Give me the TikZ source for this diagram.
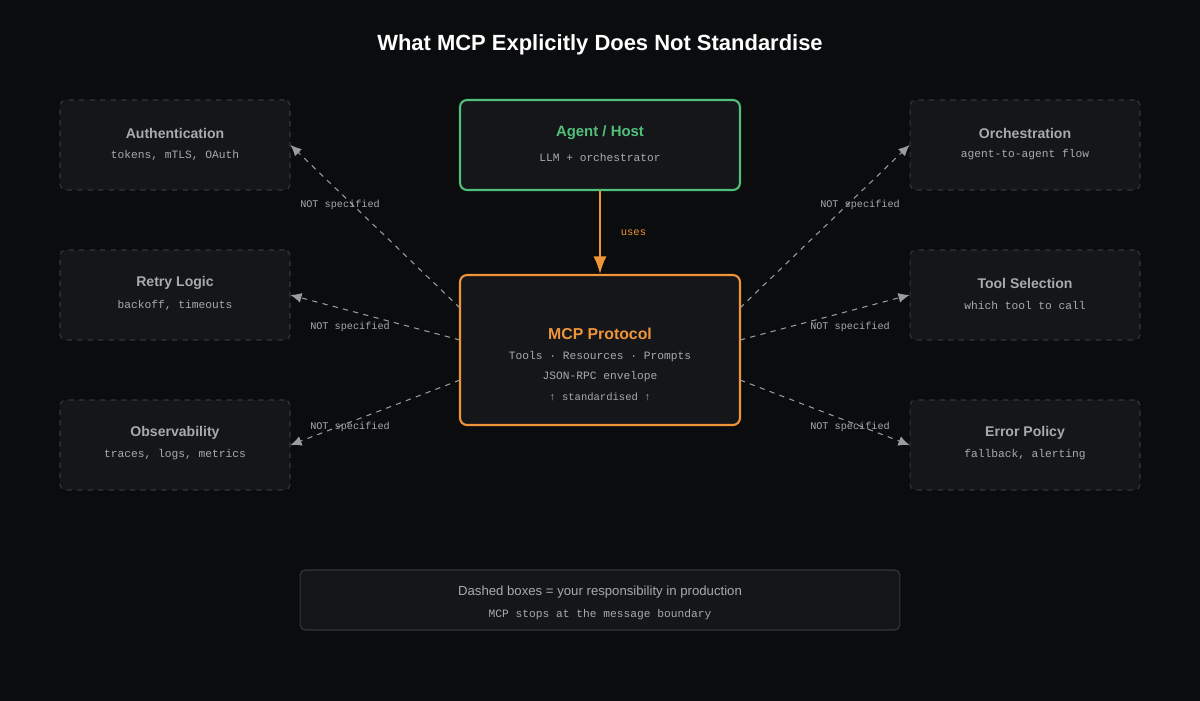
\documentclass[tikz,border=0pt]{standalone}
\usepackage{fontspec}
\setmainfont{Liberation Sans}
\setmonofont{Liberation Mono}
\usetikzlibrary{arrows.meta,positioning}
\definecolor{bgdark}{HTML}{0B0C0E}
\definecolor{boxfill}{HTML}{151619}
\definecolor{boxline}{HTML}{34363A}
\definecolor{hostgreen}{HTML}{4FBF7A}
\definecolor{mcporange}{HTML}{F0943A}
\definecolor{txtgrey}{HTML}{A8AAAE}
\definecolor{arrgrey}{HTML}{9A9CA0}

\tikzset{
  gap/.style={rectangle, rounded corners=3pt, draw=boxline, dashed, fill=boxfill,
    minimum width=4.6cm, minimum height=1.8cm, line width=0.6pt},
  gaptitle/.style={font=\fontsize{8}{9}\selectfont\bfseries, text=txtgrey},
  gapsub/.style={font=\ttfamily\fontsize{6.4}{7}\selectfont, text=txtgrey},
  notspec/.style={font=\ttfamily\fontsize{5.8}{6}\selectfont, text=txtgrey},
  notarrow/.style={-{Latex[length=2.2mm,width=2mm]}, arrgrey, dashed, line width=0.6pt}
}

\begin{document}
\begin{tikzpicture}[x=0.02cm, y=-0.02cm]
\useasboundingbox (0,0) rectangle (1200,700);
\fill[bgdark] (-5,-5) rectangle (1205,705);

\node[font=\fontsize{12.5}{14}\selectfont\bfseries, text=white] (title) at (600,45) {What MCP Explicitly Does Not Standardise};

% central boxes
\node[rectangle, rounded corners=4pt, draw=hostgreen, fill=boxfill, line width=1.2pt,
      minimum width=5.6cm, minimum height=1.8cm] (host) at (600,145) {};
\node[font=\fontsize{8.5}{10}\selectfont\bfseries, text=hostgreen] at (600,133) {Agent / Host};
\node[gapsub] at (600,157) {LLM + orchestrator};

\node[rectangle, rounded corners=4pt, draw=mcporange, fill=boxfill, line width=1.2pt,
      minimum width=5.6cm, minimum height=3cm] (mcp) at (600,350) {};
\node[font=\fontsize{9}{10}\selectfont\bfseries, text=mcporange] at (600,334) {MCP Protocol};
\node[gapsub] at (600,357) {Tools · Resources · Prompts};
\node[gapsub] at (600,377) {JSON-RPC envelope};
\node[font=\ttfamily\fontsize{6}{7}\selectfont, text=txtgrey] at (600,397) {↑ standardised ↑};

\draw[-{Latex[length=3.5mm,width=2.6mm]}, mcporange, line width=1pt] (host.south) -- (mcp.north)
  node[midway, right=8pt, font=\ttfamily\fontsize{6}{7}\selectfont, text=mcporange] {uses};

% gap boxes
\node[gap] (auth) at (175,145) {};
\node[gaptitle] at (175,133) {Authentication};
\node[gapsub] at (175,155) {tokens, mTLS, OAuth};
\node[gap] (retry) at (175,295) {};
\node[gaptitle] at (175,283) {Retry Logic};
\node[gapsub] at (175,305) {backoff, timeouts};
\node[gap] (obs) at (175,445) {};
\node[gaptitle] at (175,433) {Observability};
\node[gapsub] at (175,455) {traces, logs, metrics};
\node[gap] (orch) at (1025,145) {};
\node[gaptitle] at (1025,133) {Orchestration};
\node[gapsub] at (1025,155) {agent-to-agent flow};
\node[gap] (tool) at (1025,295) {};
\node[gaptitle] at (1025,283) {Tool Selection};
\node[gapsub] at (1025,305) {which tool to call};
\node[gap] (err) at (1025,445) {};
\node[gaptitle] at (1025,433) {Error Policy};
\node[gapsub] at (1025,455) {fallback, alerting};

% arrow starts on mcp
\coordinate (lA) at (460,308);
\coordinate (lB) at (460,340);
\coordinate (lC) at (460,380);
\coordinate (rA) at (740,308);
\coordinate (rB) at (740,340);
\coordinate (rC) at (740,380);

\draw[notarrow] (lA) -- (auth.east);
\draw[notarrow] (lB) -- (retry.east);
\draw[notarrow] (lC) -- (obs.east);
\draw[notarrow] (rA) -- (orch.west);
\draw[notarrow] (rB) -- (tool.west);
\draw[notarrow] (rC) -- (err.west);

\node[notspec] (nsA) at (340,205) {NOT specified};
\node[notspec] (nsB) at (350,327) {NOT specified};
\node[notspec] (nsC) at (350,427) {NOT specified};
\node[notspec] (nsD) at (860,205) {NOT specified};
\node[notspec] (nsE) at (850,327) {NOT specified};
\node[notspec] (nsF) at (850,427) {NOT specified};

% footer
\node[rectangle, rounded corners=3pt, draw=boxline, fill=boxfill, line width=0.6pt,
      minimum width=12cm, minimum height=1.2cm] (foot) at (600,600) {};
\node[font=\fontsize{7.5}{9}\selectfont, text=txtgrey] at (600,592) {Dashed boxes = your responsibility in production};
\node[gapsub] at (600,615) {MCP stops at the message boundary};
\end{tikzpicture}
\end{document}
